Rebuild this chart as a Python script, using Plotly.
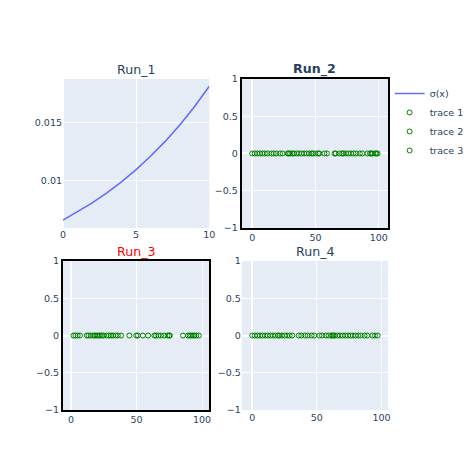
import plotly.graph_objects as go
from plotly.subplots import make_subplots

# Run_1 curve
x_run1 = [0, 1, 2, 3, 4, 5, 6, 7, 8, 9, 10]
y_run1 = [0.00665, 0.00735, 0.00812, 0.00898, 0.00992, 0.01096,
          0.01212, 0.01339, 0.01480, 0.01636, 0.01808]

# marker positions along y = 0 for the other runs
x_trace1 = [0, 2, 4, 6, 8, 10, 12, 15, 17, 19, 22, 24, 28, 29, 30, 32, 33,
            35, 37, 39, 41, 43, 45, 47, 48, 50, 52, 53, 57, 59, 65, 66, 69,
            71, 72, 74, 76, 78, 80, 82, 85, 87, 91, 93, 94, 95, 97, 98, 99]
x_trace2 = [1.8, 3.3, 5, 6.8, 12, 13.3, 15, 17, 18.3, 19.6, 20.9, 22, 23.4,
            24.6, 27, 28.9, 30.4, 31.9, 33.9, 35.7, 38.2, 44.5, 49.7, 51,
            54.8, 58.8, 63.6, 64.8, 66.6, 68.6, 71, 73.6, 74.9, 75.4, 85.4,
            89.2, 90.5, 91.7, 93, 94.2, 95.5, 97.5]
x_trace3 = [0, 2, 4, 6, 8, 10, 12, 14, 16, 18, 20, 21, 23, 25, 27, 29, 31,
            36, 38, 41, 43, 46, 48, 52, 54, 57, 59, 61, 62, 63, 64, 66, 68,
            70, 72, 74, 76, 78, 80, 82, 84, 87, 89, 93, 95, 97]

titles = ["Run_1", "<b>Run_2</b>", "Run_3", "Run_4"]

fig = make_subplots(rows=2, cols=2, subplot_titles=titles,
                    horizontal_spacing=0.1, vertical_spacing=0.1)

fig.add_trace(go.Scatter(x=x_run1, y=y_run1, mode="lines", name="σ(x)",
                         line=dict(color="#636efa", width=1.6)), row=1, col=1)

pos = [(1, 2), (2, 1), (2, 2)]
for i, xs in enumerate([x_trace1, x_trace2, x_trace3]):
    r, c = pos[i]
    fig.add_trace(go.Scatter(x=xs, y=[0] * len(xs), mode="markers",
                             name="trace %d" % (i + 1),
                             marker=dict(symbol="circle-open", color="green",
                                         size=5, line=dict(width=1))),
                  row=r, col=c)

fig.update_xaxes(range=[0, 10], row=1, col=1)
fig.update_yaxes(range=[0.00598, 0.0187], row=1, col=1)

# framed subplots
for r, c in [(1, 2), (2, 1)]:
    fig.update_xaxes(showline=True, linecolor="black", linewidth=2,
                     mirror=True, row=r, col=c)
    fig.update_yaxes(showline=True, linecolor="black", linewidth=2,
                     mirror=True, row=r, col=c)

for ann in fig.layout.annotations:
    ann.font.size = 12.6
fig.layout.annotations[2].font.color = "red"

fig.update_layout(width=466, height=466,
                  margin=dict(l=55, r=86, t=71, b=64, autoexpand=False),
                  font=dict(family="DejaVu Sans", size=9.5),
                  legend=dict(x=1.005, y=1.0, bgcolor="rgba(0,0,0,0)"),
                  template="plotly")

fig.write_html("out.html")
